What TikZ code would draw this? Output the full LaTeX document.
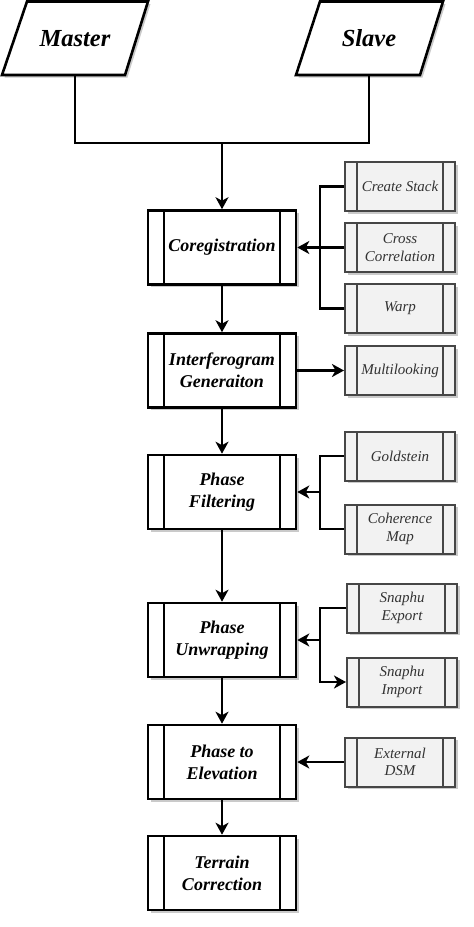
\documentclass[tikz,border=0pt]{standalone}
\usepackage{fontspec}
\setmainfont{Liberation Serif}
\usetikzlibrary{arrows.meta,shadows,calc}
\begin{document}
\begin{tikzpicture}[x=1pt,y=-1pt,
  shadowed/.style={drop shadow={shadow xshift=2.5pt,shadow yshift=-2.5pt,fill=gray!70,opacity=0.6}},
  mainbox/.style={draw=black,line width=2.6pt,fill=white,minimum width=148pt,minimum height=74pt,
    inner sep=0pt,align=center,font=\fontsize{18}{22}\selectfont\bfseries\itshape,shadowed,
    path picture={
      \draw[line width=2.6pt] ([xshift=16pt]path picture bounding box.north west) -- ([xshift=16pt]path picture bounding box.south west);
      \draw[line width=2.6pt] ([xshift=-16pt]path picture bounding box.north east) -- ([xshift=-16pt]path picture bounding box.south east);}},
  subbox/.style={draw=gray!55!black,line width=2pt,fill=gray!10,minimum width=110pt,minimum height=49pt,
    inner sep=0pt,align=center,font=\fontsize{15}{17.5}\selectfont\itshape,text=black!80,shadowed,
    path picture={
      \draw[gray!55!black,line width=2pt] ([xshift=12pt]path picture bounding box.north west) -- ([xshift=12pt]path picture bounding box.south west);
      \draw[gray!55!black,line width=2pt] ([xshift=-12pt]path picture bounding box.north east) -- ([xshift=-12pt]path picture bounding box.south east);}},
  iobox/.style={draw=black,line width=2.6pt,fill=white,shadowed},
  iotext/.style={inner sep=0pt,minimum height=73.5pt,minimum width=90pt,font=\fontsize{24.5}{28}\selectfont\bfseries\itshape},
  conn/.style={line width=2.5pt},
  arr/.style={line width=2.5pt,-{Stealth[length=12pt,width=13pt,inset=3.5pt]}}
]
\useasboundingbox (0,0) rectangle (474,927);

% input parallelograms
\path[iobox] (27,1.5) -- (148,1.5) -- (125,75) -- (2,75) -- cycle;
\path[iobox] (320,1.5) -- (443,1.5) -- (420,75) -- (296,75) -- cycle;
\node[iotext] (master) at (75,38.25) {Master};
\node[iotext] (slave) at (369,38.25) {Slave};

% main process boxes
\node[mainbox] (coreg) at (222,247.5) {Coregistration};
\node[mainbox] (interf) at (222,370.5) {Interferogram\\Generaiton};
\node[mainbox] (pf) at (222,492) {Phase\\Filtering};
\node[mainbox] (pu) at (222,640) {Phase\\Unwrapping};
\node[mainbox] (pe) at (222,762) {Phase to\\Elevation};
\node[mainbox] (tc) at (222,873) {Terrain\\Correction};

% sub boxes
\node[subbox] (cs) at (400,186.5) {Create Stack};
\node[subbox] (cc) at (400,247.5) {Cross\\Correlation};
\node[subbox] (warp) at (400,308.5) {Warp};
\node[subbox] (ml) at (400,370.5) {Multilooking};
\node[subbox] (gold) at (400,456) {Goldstein};
\node[subbox] (coh) at (400,529) {Coherence\\Map};
\node[subbox] (se) at (402,608) {Snaphu\\Export};
\node[subbox] (si) at (402,682) {Snaphu\\Import};
\node[subbox] (ext) at (400,762) {External\\DSM};

% connectors: inputs
\coordinate (join) at (222,143);
\draw[conn] (master.south) |- (join) -| (slave.south);
\draw[arr] (join) -- (coreg.north);

% main flow
\draw[arr] (coreg.south) -- (interf.north);
\draw[arr] (interf.south) -- (pf.north);
\draw[arr] (pf.south) -- (pu.north);
\draw[arr] (pu.south) -- (pe.north);
\draw[arr] (pe.south) -- (tc.north);

% coregistration group
\coordinate (busA) at (320,247.5);
\draw[conn] (cs.west) -| (busA) |- (warp.west);
\draw[arr] (cc.west) -- (coreg.east);

% multilooking
\draw[arr] (interf.east) -- (ml.west);

% phase filtering group
\coordinate (busB) at (320,492);
\draw[conn] (gold.west) -| (busB) |- (coh.west);
\draw[arr] (busB) -- (pf.east);

% unwrapping group
\coordinate (busC) at (320,640);
\draw[conn] (se.west) -| (busC);
\draw[arr] (busC) |- (si.west);
\draw[arr] (busC) -- (pu.east);

% external DSM
\draw[arr] (ext.west) -- (pe.east);
\end{tikzpicture}
\end{document}
